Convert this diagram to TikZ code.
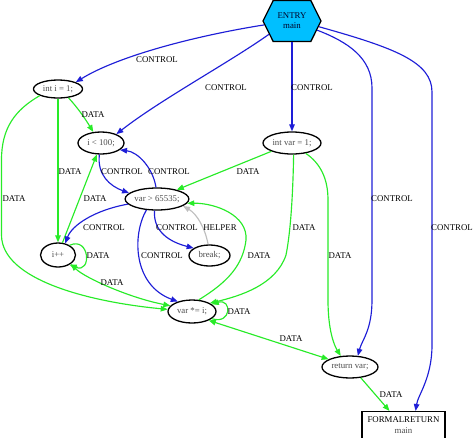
\documentclass[tikz,border=0pt]{standalone}
\usepackage{fontspec}
\setmainfont{Liberation Serif}
\usetikzlibrary{shapes.geometric,shapes.symbols,arrows.meta}
\definecolor{cblue}{RGB}{30,30,215}
\definecolor{cgreen}{RGB}{40,235,40}
\definecolor{cgray}{RGB}{190,190,190}
\definecolor{ccyan}{RGB}{0,191,255}
\begin{document}
\begin{tikzpicture}[x=1pt,y=-1pt,
  every node/.style={font=\fontsize{8.8}{10}\selectfont},
  ell/.style={ellipse, draw=black, line width=1.3pt, inner sep=0pt, text=black!70},
  lbl/.style={inner sep=0pt, text=black},
  tip/.style={-{Triangle[length=7pt,width=5.5pt]}},
  ctl/.style={draw=cblue, line width=1.15pt, tip},
  dat/.style={draw=cgreen, line width=1.15pt, tip},
  datb/.style={draw=cgreen, line width=1.15pt, {Triangle[length=7pt,width=5.5pt]}-{Triangle[length=7pt,width=5.5pt]}},
  hlp/.style={draw=cgray, line width=1.15pt, tip}]
\useasboundingbox (0,0) rectangle (474,437);
% nodes
\node[signal, signal to=west and east, signal pointer angle=127, draw=black, fill=ccyan,
      line width=1.3pt, minimum width=58pt, minimum height=41pt, inner sep=0pt,
      align=center, text=black!85!blue] (entry) at (292,21) {ENTRY\\main};
\node[ell, minimum width=49pt, minimum height=18pt] (n1) at (58,89) {int i = 1;};
\node[ell, minimum width=46pt, minimum height=22pt] (n2) at (101,143) {i < 100;};
\node[ell, minimum width=58pt, minimum height=22pt] (n3) at (292,143) {int var = 1;};
\node[ell, minimum width=62pt, minimum height=22pt] (n4) at (157,199) {var > 65535;};
\node[ell, minimum width=35pt, minimum height=24pt] (n5) at (58,255) {i++};
\node[ell, minimum width=41pt, minimum height=21pt] (n6) at (209.5,255.5) {break;};
\node[ell, minimum width=48pt, minimum height=23pt] (n7) at (192,311.5) {var *= i;};
\node[ell, minimum width=56pt, minimum height=22pt] (n8) at (350,367) {return var;};
\node[draw=black, line width=1.3pt, minimum width=83pt, minimum height=32pt, inner sep=0pt,
      align=center, anchor=north] (n9) at (403.5,411)
      {\raisebox{5pt}{FORMALRETURN}\\\raisebox{5pt}{\textcolor{black!70}{main}}};
% edges
\draw[ctl] (entry.188) .. controls (200,35) and (120,55) .. (n1.north east);
\node[lbl] (l1) at (157,60) {CONTROL};
\draw[ctl] (entry.210) .. controls (230,62) and (160,100) .. (n2.30);
\node[lbl] (l2) at (226,88) {CONTROL};
\draw[ctl] (entry.south) -- (n3.north);
\node[lbl] (l3) at (312,88) {CONTROL};
\draw[ctl] (entry.-20) .. controls (348,42) and (372,58) .. (372,88) -- (372,300) .. controls (372,330) and (362,340) .. (n8.55);
\node[lbl] (l4) at (392,199) {CONTROL};
\draw[ctl] (entry.-12) .. controls (395,48) and (432,62) .. (432,92) -- (432,345) .. controls (432,378) and (418,395) .. (n9.54);
\node[lbl] (l5) at (452,228) {CONTROL};
\draw[dat] (n1.-40) .. controls (78,108) and (86,120) .. (n2.125);
\node[lbl] (l6) at (93,115) {DATA};
\draw[dat] (n1.south) -- (n5.north);
\node[lbl] (l7) at (70,172) {DATA};
\draw[dat] (n1.200) .. controls (15,110) and (1.5,128) .. (1.5,160) -- (1.5,235) .. controls (1.5,280) and (90,302) .. (n7.175);
\node[lbl] (l8) at (14,199) {DATA};
\draw[ctl] (n2.262) .. controls (97,175) and (110,186) .. (n4.168);
\node[lbl] (l9) at (122,172) {CONTROL};
\draw[ctl] (n4.95) .. controls (153,168) and (138,152) .. (n2.-20);
\node[lbl] (l10) at (169,172) {CONTROL};
\draw[dat] (n5.70) -- (n2.250);
\node[lbl] (l11) at (95,199) {DATA};
\draw[dat] (n3.202) -- (n4.25);
\node[lbl] (l12) at (248,172) {DATA};
\draw[ctl] (n4.190) .. controls (95,210) and (72,225) .. (n5.58);
\node[lbl] (l13) at (104,228) {CONTROL};
\draw[ctl] (n4.258) .. controls (153,232) and (170,242) .. (n6.155);
\node[lbl] (l14) at (177,228) {CONTROL};
\draw[hlp] (n6.97) .. controls (205,228) and (197,214) .. (n4.-15);
\node[lbl] (l15) at (220,228) {HELPER};
\draw[ctl] (n4.226) .. controls (132,235) and (133,285) .. (n7.145);
\node[lbl] (l16) at (162,256) {CONTROL};
\draw[dat] (n5.40) .. controls (90,236) and (92,274) .. (n5.-40);
\node[lbl] (l17) at (98,256) {DATA};
\draw[datb] (n5.-35) .. controls (85,278) and (130,298) .. (n7.165);
\node[lbl] (l18) at (112,283) {DATA};
\draw[dat] (n7.60) .. controls (228,282) and (243,265) .. (246,240) .. controls (248,215) and (215,203) .. (n4.-8);
\node[lbl] (l19) at (259,256) {DATA};
\draw[dat] (n3.-82) .. controls (293,190) and (291,230) .. (286,255) .. controls (276,285) and (240,296) .. (n7.25);
\node[lbl] (l20) at (304,228) {DATA};
\draw[dat] (n3.-37) .. controls (320,163) and (328,178) .. (328,200) -- (328,300) .. controls (328,330) and (334,345) .. (n8.130);
\node[lbl] (l21) at (340,256) {DATA};
\draw[dat] (n7.-20) .. controls (232,325) and (232,298) .. (n7.20);
\node[lbl] (l22) at (239,312) {DATA};
\draw[datb] (n7.-28) -- (n8.160);
\node[lbl] (l23) at (291,339) {DATA};
\draw[dat] (n8.-45) -- (n9.130);
\node[lbl] (l24) at (391,395) {DATA};
\end{tikzpicture}
\end{document}
